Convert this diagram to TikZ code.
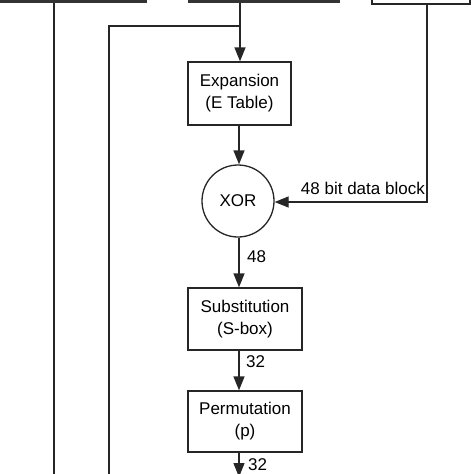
\documentclass[tikz,border=0pt]{standalone}
\usepackage{fontspec}
\setmainfont{Liberation Sans}
\usetikzlibrary{arrows.meta}
\begin{document}
\begin{tikzpicture}[x=1pt,y=-1pt,
  every node/.style={font=\fontsize{17}{22}\selectfont},
  line/.style={line width=1.3pt, draw=black!85},
  arr/.style={line/.try, -{Triangle[length=14pt,width=11pt]}},
  boxn/.style={draw=black!85, line width=1.3pt, fill=white, align=center, inner sep=0pt},
  topbar/.style={fill=black!80, inner sep=0pt, minimum height=10pt},
  lbl/.style={inner sep=0pt, anchor=west}]
\useasboundingbox (0,0) rectangle (474,474);
\clip (0,0) rectangle (474,474);
% top blocks (cut off)
\node[topbar, minimum width=150pt] (topL) at (72,-2.5) {};
\node[topbar, minimum width=152pt] (topM) at (264,-2.5) {};
\node[boxn, minimum width=98pt, minimum height=30pt] (topR) at (421,-11) {};
% main chain
\node[boxn, minimum width=103pt, minimum height=63pt] (exp) at (239.5,93.5) {Expansion\\(E Table)};
\node[boxn, circle, minimum size=72pt] (xor) at (238,201) {XOR};
\node[boxn, minimum width=114pt, minimum height=62pt] (sub) at (245,319) {Substitution\\(S-box)};
\node[boxn, minimum width=114pt, minimum height=61pt] (perm) at (245,421.5) {Permutation\\(p)};
% coordinates
\coordinate (jM) at (240,26);
\coordinate (jL) at (109,26);
\coordinate (bL) at (109,480);
\coordinate (bLL) at (54,480);
\coordinate (tR) at (427,4);
\coordinate (cR) at (427,202);
\coordinate (bend) at (239,477);
% left lines
\draw[line] (topL.south -| bLL) -- (bLL);
\draw[line] (jM) -- (jL) -- (bL);
% middle
\draw[arr] (topM.south -| jM) -- (exp.north -| jM);
\draw[arr] (exp.south -| 239,0) -- (xor.north -| 239,0);
% right
\draw[arr] (tR) -- (cR) -- (cR -| xor.east);
\node[lbl, anchor=south east] (l48b) at (425,195) {48 bit data block};
% lower chain
\draw[arr] (xor.south -| 239,0) -- (sub.north -| 239,0);
\node[lbl] (l48) at (247,257) {48};
\draw[arr] (sub.south -| 239,0) -- (perm.north -| 239,0);
\node[lbl] (l32a) at (246,362) {32};
\draw[arr] (perm.south -| bend) -- (bend);
\node[lbl] (l32b) at (248,465) {32};
\end{tikzpicture}
\end{document}
